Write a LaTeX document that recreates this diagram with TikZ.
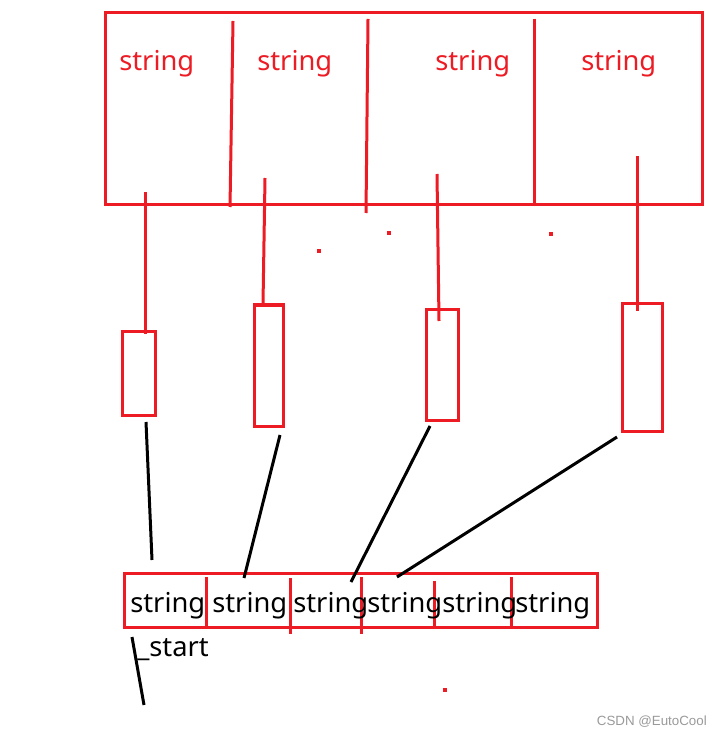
\documentclass[tikz,border=0pt]{standalone}
\usepackage{fontspec}
\setmainfont{Noto Sans}
\newfontfamily\wmfont{Liberation Sans}
\definecolor{pred}{HTML}{ED1C24}
\definecolor{wmgray}{HTML}{9A9A9A}
\tikzset{
  redline/.style={draw=pred, line width=2.25pt},
  blkline/.style={draw=black, line width=2.25pt},
  redbox/.style={draw=pred, line width=2.25pt, rectangle, inner sep=0pt},
  redtxt/.style={text=pred, font=\fontsize{20.5}{24}\selectfont, inner sep=0pt, anchor=base west},
  blktxt/.style={text=black, font=\fontsize{20.5}{24}\selectfont, inner sep=0pt, anchor=base west},
  dotmark/.style={fill=pred, minimum size=2.5pt, inner sep=0pt, rectangle},
}
\begin{document}
\begin{tikzpicture}[x=0.75pt, y=-0.75pt]
\fill[white] (0,0) rectangle (721,737);
\useasboundingbox (0,0) rectangle (721,737);

% top box
\node[redbox, minimum width=447.75pt, minimum height=144pt] (top) at (403.5,109) {};
\draw[redline] (233,21) -- (230,207);
\draw[redline] (368,19) -- (366,213);
\draw[redline] (534,19) -- (534,205);
\node[redtxt] (t1) at (119,71) {string};
\node[redtxt] (t2) at (257,71) {string};
\node[redtxt] (t3) at (435,71) {string};
\node[redtxt] (t4) at (581,71) {string};

% small boxes
\node[redbox, minimum width=24.75pt, minimum height=63pt] (r1) at (138.5,373) {};
\node[redbox, minimum width=21.75pt, minimum height=90.75pt] (r2) at (268.5,365.5) {};
\node[redbox, minimum width=24pt, minimum height=83.25pt] (r3) at (442,364.5) {};
\node[redbox, minimum width=30pt, minimum height=95.25pt] (r4) at (642,367.5) {};

% stems
\coordinate (s1a) at (145,192); \coordinate (s1b) at (145,334);
\coordinate (s2a) at (265,178); \coordinate (s2b) at (263,304);
\coordinate (s3a) at (437,174); \coordinate (s3b) at (439,321);
\coordinate (s4a) at (637,156); \coordinate (s4b) at (637,311);
\draw[redline] (s1a) -- (s1b);
\draw[redline] (s2a) -- (s2b);
\draw[redline] (s3a) -- (s3b);
\draw[redline] (s4a) -- (s4b);

% red dots
\node[dotmark] (d1) at (319,251) {};
\node[dotmark] (d2) at (389,233) {};
\node[dotmark] (d3) at (551,234) {};
\node[dotmark] (d4) at (445,690) {};

% bottom box
\node[redbox, minimum width=354.75pt, minimum height=40.5pt] (bot) at (360.5,600) {};
\draw[redline] (206,577) -- (206,627);
\draw[redline] (290,578) -- (290,634);
\draw[redline] (361,577) -- (361,634);
\draw[redline] (434,581) -- (434,626);
\draw[redline] (511,577) -- (511,627);
\node[blktxt] (b1) at (130,612) {string};
\node[blktxt] (b2) at (212,612) {string};
\node[blktxt] (b3) at (293,612) {string};
\node[blktxt] (b4) at (367,612) {string};
\node[blktxt] (b5) at (442,612) {string};
\node[blktxt] (b6) at (515,612) {string};

% black connectors
\coordinate (c1a) at (146,422); \coordinate (c1b) at (152,560);
\coordinate (c2a) at (280,435); \coordinate (c2b) at (244,578);
\coordinate (c3a) at (430,426); \coordinate (c3b) at (351,582);
\coordinate (c4a) at (617,437); \coordinate (c4b) at (397,577);
\draw[blkline] (c1a) -- (c1b);
\draw[blkline] (c2a) -- (c2b);
\draw[blkline] (c3a) -- (c3b);
\draw[blkline] (c4a) -- (c4b);

% _start
\node[blktxt] (st) at (137,656) {\_start};
\coordinate (sa) at (132,637); \coordinate (sb) at (144,705);
\draw[blkline] (sa) -- (sb);

% watermark
\node[text=wmgray, font=\wmfont\fontsize{10}{12}\selectfont, inner sep=0pt, anchor=east] (wm) at (707,722) {CSDN @EutoCool};
\end{tikzpicture}
\end{document}
